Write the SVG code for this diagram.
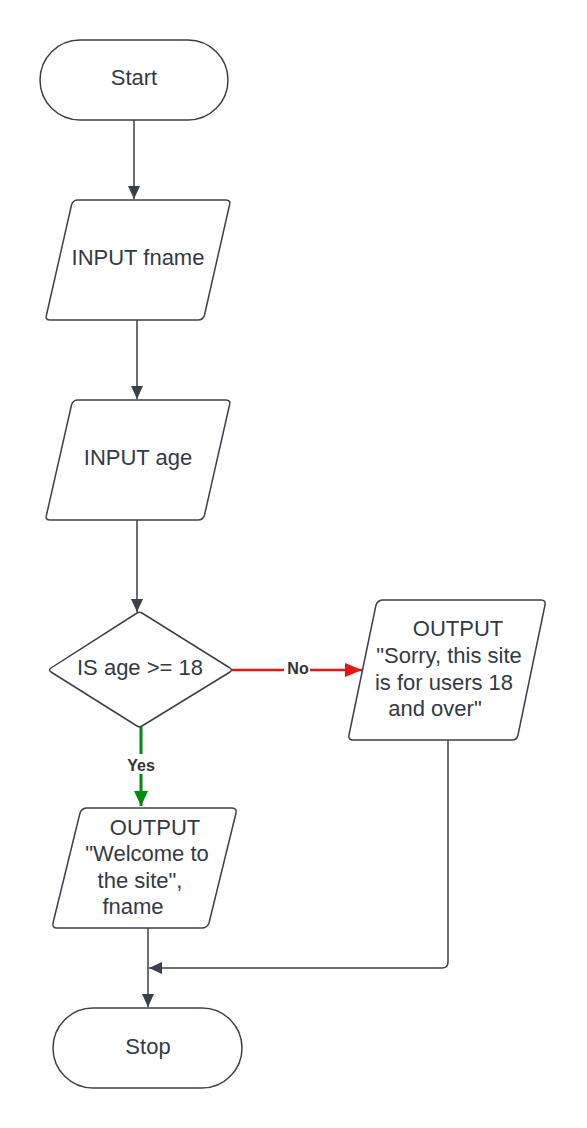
<svg xmlns="http://www.w3.org/2000/svg" width="587" height="1128" viewBox="0 0 587 1128">
<style>
.shape{fill:#ffffff;stroke:#3a414a;stroke-width:1.5}
.t{font-family:"Liberation Sans",Arial,sans-serif;font-size:22px;fill:#333a45;text-anchor:middle}
.lbl{font-family:"Liberation Sans",Arial,sans-serif;font-size:16px;font-weight:bold;fill:#333333;text-anchor:middle}
.c{fill:none;stroke:#3a414a;stroke-width:1.5}
</style>
<defs>
<marker id="ag" markerUnits="userSpaceOnUse" markerWidth="14" markerHeight="14" refX="13" refY="6" orient="auto"><path d="M0,0 L13,6 L0,12 Z" fill="#3a414a"/></marker>
<marker id="ar" markerUnits="userSpaceOnUse" markerWidth="18" markerHeight="16" refX="17" refY="7" orient="auto"><path d="M0,0 L17,7 L0,14 Z" fill="#e81313"/></marker>
<marker id="agr" markerUnits="userSpaceOnUse" markerWidth="16" markerHeight="16" refX="15" refY="7" orient="auto"><path d="M0,0 L15,7 L0,14 Z" fill="#008a0e"/></marker>
</defs>
<rect width="587" height="1128" fill="#ffffff"/>
<g id="connectors">
<line class="c" x1="134" y1="120" x2="134" y2="199" marker-end="url(#ag)"/>
<line class="c" x1="137" y1="320" x2="137" y2="399" marker-end="url(#ag)"/>
<line class="c" x1="137" y1="520" x2="137" y2="612" marker-end="url(#ag)"/>
<line x1="232" y1="670" x2="362" y2="670" stroke="#e81313" stroke-width="2.5" marker-end="url(#ar)"/>
<line x1="141" y1="727" x2="141" y2="806" stroke="#008a0e" stroke-width="3" marker-end="url(#agr)"/>
<line class="c" x1="148" y1="928" x2="148" y2="1007" marker-end="url(#ag)"/>
<path class="c" d="M448,740 L448,962 Q448,968 442,968 L149,968" marker-end="url(#ag)"/>
<rect x="284" y="659" width="26" height="20" fill="#ffffff"/>
<text class="lbl" x="298" y="674">No</text>
<rect x="124" y="754" width="34" height="20" fill="#ffffff"/>
<text class="lbl" x="141" y="771">Yes</text>
</g>
<g id="start">
<rect class="shape" x="40" y="40" width="188" height="80" rx="40" ry="40"/>
<text class="t" x="134" y="85">Start</text>
</g>
<g id="input-fname">
<path class="shape" d="M78,200 L226,200 Q231,200 229.5,205 L204.5,315 Q203,320 198,320 L50,320 Q45,320 46.5,315 L71.5,205 Q73,200 78,200 Z"/>
<text class="t" x="138" y="265">INPUT fname</text>
</g>
<g id="input-age">
<path class="shape" d="M78,400 L226,400 Q231,400 229.5,405 L204.5,515 Q203,520 198,520 L50,520 Q45,520 46.5,515 L71.5,405 Q73,400 78,400 Z"/>
<text class="t" x="138" y="465">INPUT age</text>
</g>
<g id="decision">
<path class="shape" d="M137,613 Q139.5,611.5 142,613 L230,668 Q233,670 230,672 L142,726 Q139.5,727.5 137,726 L51,672 Q48,670 51,668 Z"/>
<text class="t" x="140" y="675">IS age &gt;= 18</text>
</g>
<g id="output-sorry">
<path class="shape" d="M383,600 L541,600 Q546,600 545,605 L518,735 Q517,740 512,740 L353,740 Q348,740 349,735 L376,605 Q378,600 383,600 Z"/>
<text class="t" x="458" y="636">OUTPUT</text>
<text class="t" x="449" y="663">"Sorry, this site</text>
<text class="t" x="444" y="690">is for users 18</text>
<text class="t" x="435" y="716">and over"</text>
</g>
<g id="output-welcome">
<path class="shape" d="M87,808 L232,808 Q237,808 236,813 L209,923 Q207,928 202,928 L57,928 Q52,928 53,923 L80,813 Q82,808 87,808 Z"/>
<text class="t" x="155" y="835">OUTPUT</text>
<text class="t" x="147" y="861">"Welcome to</text>
<text class="t" x="140" y="888">the site",</text>
<text class="t" x="133" y="914">fname</text>
</g>
<g id="stop">
<rect class="shape" x="53" y="1008" width="189" height="80" rx="40" ry="40"/>
<text class="t" x="148" y="1054">Stop</text>
</g>
</svg>
